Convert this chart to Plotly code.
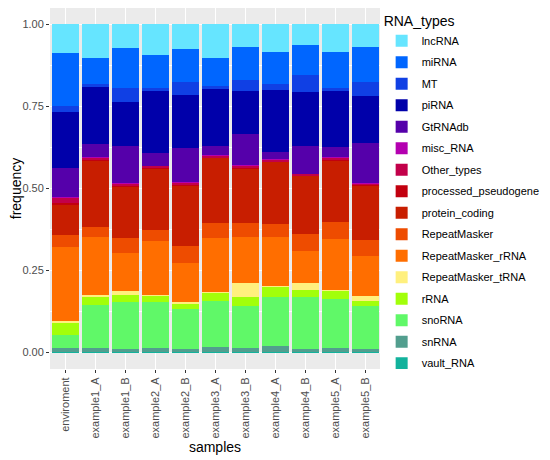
import plotly.graph_objects as go

samples = ['enviroment', 'example1_A', 'example1_B', 'example2_A', 'example2_B', 'example3_A',
           'example3_B', 'example4_A', 'example4_B', 'example5_A', 'example5_B']

# stacking order, bottom to top
rna_types = ['vault_RNA', 'snRNA', 'snoRNA', 'rRNA', 'RepeatMasker_tRNA', 'RepeatMasker_rRNA',
             'RepeatMasker', 'protein_coding', 'processed_pseudogene', 'Other_types', 'misc_RNA',
             'GtRNAdb', 'piRNA', 'MT', 'miRNA', 'lncRNA']

vault_rna = [0.002, 0.002, 0.002, 0.002, 0.002, 0.002, 0.002, 0.002, 0.002, 0.002, 0.002]
sn_rna = [0.011, 0.012, 0.008, 0.011, 0.008, 0.014, 0.012, 0.018, 0.008, 0.012, 0.008]
sno_rna = [0.042, 0.131, 0.144, 0.140, 0.123, 0.140, 0.129, 0.150, 0.160, 0.149, 0.131]
r_rna = [0.036, 0.027, 0.021, 0.022, 0.016, 0.026, 0.027, 0.030, 0.022, 0.026, 0.016]
rm_trna = [0.006, 0.003, 0.013, 0.002, 0.005, 0.003, 0.041, 0.002, 0.019, 0.002, 0.014]
rm_rrna = [0.225, 0.177, 0.117, 0.163, 0.119, 0.165, 0.140, 0.149, 0.099, 0.154, 0.122]
repeat_masker = [0.036, 0.032, 0.043, 0.033, 0.052, 0.045, 0.044, 0.042, 0.050, 0.052, 0.051]
protein_coding = [0.093, 0.202, 0.157, 0.187, 0.184, 0.198, 0.166, 0.188, 0.180, 0.189, 0.164]
processed_pseudogene = [0.005, 0.003, 0.003, 0.003, 0.003, 0.002, 0.003, 0.002, 0.001, 0.003, 0.003]
other_types = [0.017, 0.005, 0.008, 0.006, 0.007, 0.005, 0.006, 0.005, 0.002, 0.005, 0.005]
misc_rna = [0.002, 0.001, 0.001, 0.001, 0.001, 0.001, 0.001, 0.001, 0.000, 0.001, 0.001]
gt_rnadb = [0.087, 0.041, 0.114, 0.037, 0.104, 0.027, 0.095, 0.022, 0.088, 0.030, 0.121]
pi_rna = [0.170, 0.172, 0.132, 0.190, 0.162, 0.174, 0.130, 0.190, 0.162, 0.172, 0.143]
mt = [0.020, 0.009, 0.042, 0.010, 0.040, 0.009, 0.036, 0.018, 0.052, 0.010, 0.043]
mi_rna = [0.160, 0.081, 0.122, 0.101, 0.100, 0.086, 0.100, 0.097, 0.092, 0.108, 0.107]
lnc_rna = [0.088, 0.102, 0.073, 0.092, 0.074, 0.103, 0.068, 0.084, 0.063, 0.085, 0.069]

VALUES = [vault_rna, sn_rna, sno_rna, r_rna, rm_trna, rm_rrna, repeat_masker, protein_coding,
          processed_pseudogene, other_types, misc_rna, gt_rnadb, pi_rna, mt, mi_rna, lnc_rna]

COLOURS = ['#12B29C', '#529E8E', '#60F868', '#A2FF0A', '#FFF07E', '#FF6E00', '#EE4C00',
           '#C81E00', '#C2000F', '#C2004A', '#B400B0', '#5500AA', '#0000AA', '#1040E4',
           '#0066FF', '#66E5FF']

TICK_GREY = '#4D4D4D'
PANEL_GREY = '#EBEBEB'

fig = go.Figure()
for i, (name, vals, colour) in enumerate(zip(rna_types, VALUES, COLOURS)):
    # legend lists the top of the stack first, like ggplot
    fig.add_trace(go.Bar(x=samples, y=vals, name=name, legendgroup=name,
                         legendrank=100 - i,
                         marker={'color': colour, 'line': {'width': 0}},
                         hovertemplate='%{x}<br>' + name + ': %{y}<extra></extra>'))

# the page body adds an 8px margin, so the figure is sized to what is left of the window
fig.update_layout(
    width=542, height=452,
    barmode='stack', bargap=0.1,
    plot_bgcolor=PANEL_GREY, paper_bgcolor='white',
    font={'family': 'Liberation Sans, Arial, sans-serif', 'color': 'black'},
    margin={'l': 42, 'r': 170, 't': 0, 'b': 91, 'autoexpand': False},
    legend={'title': {'text': 'RNA_types', 'font': {'size': 14}},
            'traceorder': 'grouped', 'font': {'size': 11},
            'x': 1.005, 'y': 1.0, 'xanchor': 'left', 'yanchor': 'top',
            'tracegroupgap': 2.5, 'itemwidth': 30, 'itemsizing': 'constant',
            'maxheight': 1.0},
)
fig.update_xaxes(title={'text': 'samples', 'font': {'size': 14}, 'standoff': 2},
                 tickangle=-90, tickfont={'size': 11, 'color': TICK_GREY},
                 ticks='outside', ticklen=3, tickcolor='#333333',
                 showgrid=True, gridcolor='white', gridwidth=1.2, zeroline=False,
                 showline=False, automargin=False)
fig.update_yaxes(title={'text': 'frequency', 'font': {'size': 14}, 'standoff': 2},
                 range=[-0.05, 1.05], tickvals=[0, 0.25, 0.5, 0.75, 1.0], tickformat='.2f',
                 tickfont={'size': 11, 'color': TICK_GREY},
                 ticks='outside', ticklen=3, tickcolor='#333333',
                 showgrid=True, gridcolor='white', gridwidth=1.2, zeroline=False,
                 minor={'dtick': 0.125, 'showgrid': True, 'gridcolor': 'white', 'gridwidth': 0.5},
                 showline=False, automargin=False)

fig.write_html('out.html')
